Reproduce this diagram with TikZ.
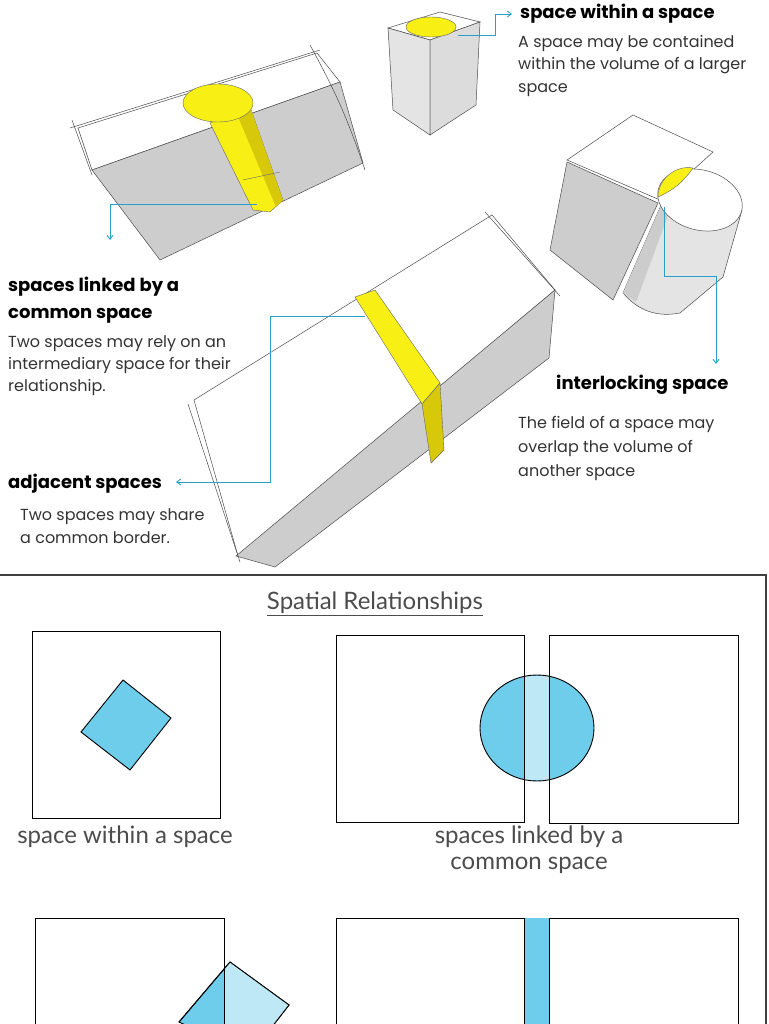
\documentclass[tikz,border=0pt]{standalone}
\usepackage{fontspec}
\setmainfont{Poppins}
\newfontfamily\capfont{Lato}
\usetikzlibrary{arrows.meta}
\definecolor{lead}{RGB}{40,160,200}
\definecolor{ylw}{RGB}{248,240,20}
\definecolor{ylwd}{RGB}{215,200,10}
\definecolor{gry}{RGB}{205,205,205}
\definecolor{gryl}{RGB}{228,228,228}
\definecolor{sky}{RGB}{110,205,235}
\definecolor{skyl}{RGB}{190,232,245}
\tikzset{
  sk/.style={draw=black!70,line width=0.5pt},
  leader/.style={draw=lead,line width=0.9pt},
  ahead/.style={-{Straight Barb[length=4pt,width=6pt]}},
  hd/.style={anchor=base west,font=\bfseries\fontsize{18}{20}\selectfont,inner sep=0pt},
  bd/.style={anchor=base west,font=\fontsize{16}{18}\selectfont,inner sep=0pt,text=black!80},
  captxt/.style={font=\capfont\fontsize{24}{26}\selectfont,text=black!70,inner sep=0pt},
  frame/.style={draw=black,line width=0.9pt}
}
\begin{document}
\begin{tikzpicture}[x=1pt,y=-1pt]
\useasboundingbox (0,0) rectangle (768,1024);
% ---------- block 1 : linked by common space
\fill[white,sk] (78,128) -- (317,53) -- (340,82) -- (92,170) -- cycle;
\fill[gry,sk] (92,170) -- (340,82) -- (363,163) -- (160,260) -- cycle;
\draw[sk] (72,120) -- (92,175) (310,45) to[bend left=5] (365,170) (70,128) -- (320,50);
\fill[ylw,draw=black!60] (210,123) -- (250,107) -- (283,200) -- (270,212) -- (253,210) -- cycle;
\fill[ylwd] (236,112) -- (250,107) -- (283,200) -- (276,207) -- cycle;
\draw[black!60] (243,180) -- (280,172);
\fill[ylw,draw=black!60] (218,103) ellipse [x radius=35,y radius=19];
\coordinate (c1) at (257,204);
\coordinate (c1b) at (110,204);
\coordinate (c1e) at (110,240);
\draw[leader,ahead] (c1) -- (c1b) -- (c1e);
% ---------- block 2 : space within a space
\fill[white,sk] (388,28) -- (440,12) -- (480,22) -- (430,40) -- cycle;
\fill[gryl,sk] (388,28) -- (430,40) -- (430,135) -- (393,110) -- cycle;
\fill[gry!70,sk] (430,40) -- (480,22) -- (476,105) -- (430,135) -- cycle;
\fill[ylw,draw=black!60] (431,27) ellipse [x radius=25,y radius=10];
\coordinate (c2) at (458,35);
\coordinate (c2a) at (495,35);
\coordinate (c2b) at (495,14);
\coordinate (c2e) at (512,14);
\draw[leader,ahead] (c2) -- (c2a) -- (c2b) -- (c2e);
% ---------- block 3 : interlocking
\fill[white,sk] (567,160) -- (633,115) -- (713,152) -- (660,200) -- cycle;
\fill[gry,sk] (567,162) -- (658,203) -- (613,300) -- (550,250) -- cycle;
\fill[gryl,sk] (662,203) -- (623,293) to[bend right=30] (680,313) -- (723,277) -- (742,210) -- cycle;
\fill[black!20] (662,203) -- (623,293) -- (636,302) -- (670,210) -- cycle;
\fill[white,sk,rotate around={-15:(700,200)}] (700,200) ellipse [x radius=43,y radius=30];
\fill[ylw,draw=black!60] (658,197) to[bend left=50] (693,168) to[bend left=15] (658,197);
\coordinate (c3) at (664,207);
\coordinate (c3a) at (664,276);
\coordinate (c3b) at (716,276);
\coordinate (c3e) at (716,364);
\draw[leader,ahead] (c3) -- (c3a) -- (c3b) -- (c3e);
% ---------- block 4 : adjacent
\fill[white,sk] (194,400) -- (492,215) -- (555,290) -- (238,556) -- cycle;
\fill[gry,sk] (555,290) -- (549,358) -- (275,567) -- (236,556) -- cycle;
\draw[sk] (188,404) -- (240,562) (485,212) -- (560,296);
\fill[ylw,draw=black!60] (355,297) -- (375,290) -- (440,383) -- (422,404) -- cycle;
\fill[ylwd,draw=black!60] (422,404) -- (440,383) -- (444,450) -- (431,463) -- cycle;
\coordinate (c4) at (365,316);
\coordinate (c4a) at (270,316);
\coordinate (c4b) at (270,482);
\coordinate (c4e) at (176,482);
\draw[leader,ahead] (c4) -- (c4a) -- (c4b) -- (c4e);
% ---------- texts
\node[hd] (t1) at (520,19) {space within a space};
\node[bd] (t1a) at (518,48) {A space may be contained};
\node[bd] (t1b) at (518,70) {within the volume of a larger};
\node[bd] (t1c) at (518,93) {space};
\node[hd] (t2) at (8,291) {spaces linked by a};
\node[hd] (t2b) at (8,318) {common space};
\node[bd] (t2c) at (8,347) {Two spaces may rely on an};
\node[bd] (t2d) at (8,369) {intermediary space for their};
\node[bd] (t2e) at (8,391) {relationship.};
\node[hd] (t3) at (556,389) {interlocking space};
\node[bd] (t3a) at (518,428) {The field of a space may};
\node[bd] (t3b) at (518,452) {overlap the volume of};
\node[bd] (t3c) at (518,476) {another space};
\node[hd] (t4) at (8,488) {adjacent spaces};
\node[bd] (t4a) at (20,520) {Two spaces may share};
\node[bd] (t4b) at (20,543) {a common border.};
% ---------- bottom panel
\draw[line width=1.2pt,black!75] (0,575) -- (766,575) -- (766,1024);
\node[captxt] (ttl) at (375,604) {\underline{Spatial Relationships}};
\draw[frame] (32,631) rectangle (220,818);
\filldraw[fill=sky,draw=black,line width=0.9pt] (123,680) -- (171,718) -- (130,770) -- (81,732) -- cycle;
\node[captxt] (cap1) at (125,837) {space within a space};
\fill[sky] (537,728) ellipse [x radius=57,y radius=53];
\fill[skyl] (524,676) rectangle (549,780);
\draw[black,line width=0.9pt] (537,728) ellipse [x radius=57,y radius=53];
\draw[frame] (336,635) rectangle (524,822);
\draw[frame] (549,635) rectangle (738,823);
\node[captxt] (cap2) at (529,837) {spaces linked by a};
\node[captxt] (cap2b) at (529,865) {common space};
\filldraw[fill=sky,draw=black,line width=0.9pt] (230,962) -- (289,1005) -- (250,1055) -- (179,1022) -- cycle;
\fill[skyl] (224,970) -- (230,962) -- (289,1005) -- (250,1055) -- (224,1040) -- cycle;
\draw[frame] (35,1030) -- (35,918) -- (224,918) -- (224,1030);
\draw[frame] (230,962) -- (289,1005) -- (250,1055) (230,962) -- (179,1022);
\fill[sky] (524,918) rectangle (549,1030);
\draw[frame] (336,1030) -- (336,918) -- (524,918) -- (524,1030);
\draw[frame] (549,1030) -- (549,918) -- (738,918) -- (738,1030);
\end{tikzpicture}
\end{document}
